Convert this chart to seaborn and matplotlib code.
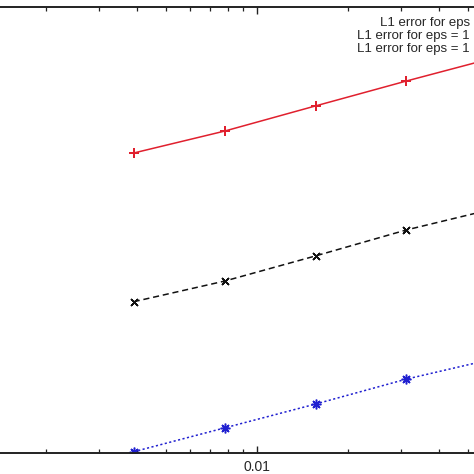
import numpy as np
import pandas as pd
import matplotlib
matplotlib.use("Agg")
import matplotlib.pyplot as plt
import seaborn as sns

# mesh sizes h = 1/256 ... 1/16
h = [1/256, 1/128, 1/64, 1/32, 1/16]
err_eps1 = [1.00e-2, 1.40e-2, 2.06e-2, 3.02e-2, 4.37e-2]
err_eps2 = [1.02e-3, 1.40e-3, 2.06e-3, 3.07e-3, 4.30e-3]
err_eps3 = [1.02e-4, 1.47e-4, 2.12e-4, 3.11e-4, 4.30e-4]
# key entries, as far as they show inside the frame
labels = ["L1 error for eps", "L1 error for eps = 1", "L1 error for eps = 1"]

sns.set_style("ticks")
plt.rcParams['font.family'] = ['Liberation Sans', 'DejaVu Sans']

W = 474
fig = plt.figure(figsize=(4.74, 4.74), dpi=100)
ax = fig.add_axes([0, (W - 453) / W, 1, (453 - 7) / W])

series = [
    (err_eps1, '#e0202e', '-', (4, 2, 0)),
    (err_eps2, '#111111', '--', (4, 2, 45)),
    (err_eps3, '#2020d0', ':', (8, 2, 0)),
]
dashes = {'-': None, '--': [4, 2.5], ':': [1.4, 1.6]}
for vals, col, ls, mk in series:
    df = pd.DataFrame({'h': h, 'err': vals})
    sns.lineplot(data=df, x='h', y='err', ax=ax, color=col, linestyle=ls,
                 marker=mk, markersize=7, markeredgewidth=1.1,
                 markeredgecolor=col, linewidth=1.1)
    if dashes[ls]:
        ax.lines[-1].set_dashes(dashes[ls])

ax.set_xscale('log')
ax.set_yscale('log')
x0 = 0.01 * 10 ** (-257 / 302)
x1 = 0.01 * 10 ** ((W - 257) / 302)
ax.set_xlim(x0, x1)
ax.set_ylim(1e-4, 1e-4 * 10 ** (446 / 150))
ax.set_xlabel('')
ax.set_ylabel('')
ax.set_xticks([0.01])
ax.set_xticklabels(['0.01'])
ax.tick_params(axis='x', which='both', direction='in', top=True, bottom=True,
               labelsize=10, pad=5, color='#222222')
ax.tick_params(axis='x', which='major', length=5, width=1)
ax.tick_params(axis='x', which='minor', length=3, width=0.9)
ax.tick_params(axis='y', which='both', left=False, right=False, labelleft=False)
for s in ['left', 'right']:
    ax.spines[s].set_visible(False)
for s in ['top', 'bottom']:
    ax.spines[s].set_linewidth(1.4)
    ax.spines[s].set_color('#222222')

for lab, yb in zip(labels, [26, 39, 52]):
    fig.text(470 / W, 1 - yb / W, lab, fontsize=9.5, ha='right', va='baseline')

fig.savefig('out.png', dpi=100)
